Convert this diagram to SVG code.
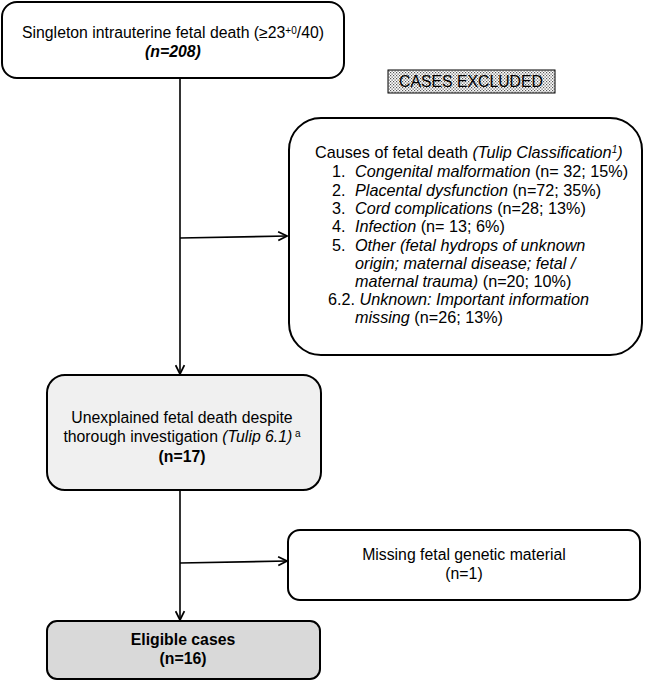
<svg xmlns="http://www.w3.org/2000/svg" width="651" height="685" viewBox="0 0 651 685">
<style>
.box{stroke:#000;stroke-width:2}
.t{font-family:"Liberation Sans",Arial,sans-serif;font-size:15.8px;fill:#000}
.l{font-size:16.2px}
.c{text-anchor:middle}
.i{font-style:italic}
.b{font-weight:bold}
.ln{stroke:#000;stroke-width:1.6;fill:none}
</style>
<defs>
<marker id="arr" viewBox="0 0 10 10" refX="9" refY="5" markerWidth="11" markerHeight="11" markerUnits="userSpaceOnUse" orient="auto">
<path d="M1,1 L9,5 L1,9" fill="none" stroke="#000" stroke-width="1.6"/>
</marker>
<pattern id="dots" width="3" height="3" patternUnits="userSpaceOnUse">
<rect width="3" height="3" fill="#fff"/>
<rect x="0" y="0" width="1.2" height="1.2" fill="#555"/>
<rect x="1.5" y="1.5" width="1.2" height="1.2" fill="#555"/>
</pattern>
</defs>
<g id="connectors">
<line class="ln" x1="180" y1="78" x2="180" y2="374" marker-end="url(#arr)"/>
<line class="ln" x1="180" y1="238" x2="287" y2="236" marker-end="url(#arr)"/>
<line class="ln" x1="180" y1="490" x2="180" y2="620" marker-end="url(#arr)"/>
<line class="ln" x1="180" y1="563" x2="287" y2="561" marker-end="url(#arr)"/>
</g>
<g id="n1">
<rect class="box" x="2" y="2" width="342" height="76" rx="15" fill="#fff"/>
<text class="t c" x="173" y="38">Singleton intrauterine fetal death (≥23<tspan font-size="10" dy="-4">+0</tspan><tspan dy="4">/40)</tspan></text>
<text class="t c i b" x="173" y="57">(n=208)</text>
</g>
<g id="excluded">
<rect x="388" y="70" width="167" height="23" fill="url(#dots)" stroke="#000" stroke-width="1"/>
<text class="t c" x="471" y="87">CASES EXCLUDED</text>
</g>
<g id="causes">
<rect class="box" x="289" y="118" width="353" height="237" rx="32" fill="#fff"/>
<text class="t l" x="315" y="158">Causes of fetal death <tspan class="i">(Tulip Classification<tspan font-size="10" dy="-5">1</tspan><tspan dy="5">)</tspan></tspan></text>
<text class="t l" x="332" y="177">1.</text><text class="t l" x="355" y="177"><tspan class="i">Congenital malformation</tspan> (n= 32; 15%)</text>
<text class="t l" x="332" y="196">2.</text><text class="t l" x="355" y="196"><tspan class="i">Placental dysfunction</tspan> (n=72; 35%)</text>
<text class="t l" x="332" y="214">3.</text><text class="t l" x="355" y="214"><tspan class="i">Cord complications</tspan> (n=28; 13%)</text>
<text class="t l" x="332" y="232">4.</text><text class="t l" x="355" y="232"><tspan class="i">Infection</tspan> (n= 13; 6%)</text>
<text class="t l" x="332" y="251">5.</text><text class="t l i" x="355" y="251">Other (fetal hydrops of unknown</text>
<text class="t l i" x="355" y="269">origin; maternal disease; fetal /</text>
<text class="t l" x="355" y="287"><tspan class="i">maternal trauma)</tspan> (n=20; 10%)</text>
<text class="t l" x="328" y="305">6.2. <tspan class="i">Unknown: Important information</tspan></text>
<text class="t l" x="355" y="323"><tspan class="i">missing</tspan> (n=26; 13%)</text>
</g>
<g id="unexplained">
<rect class="box" x="47" y="375" width="274" height="115" rx="18" fill="#f0f0f0"/>
<text class="t c" x="182" y="423">Unexplained fetal death despite</text>
<text class="t c" x="182" y="442">thorough investigation <tspan class="i">(Tulip 6.1)</tspan><tspan font-size="10" dy="-5"> a</tspan></text>
<text class="t c b" x="182" y="462">(n=17)</text>
</g>
<g id="missing">
<rect class="box" x="288" y="530" width="352" height="70" rx="12" fill="#fff"/>
<text class="t c" x="464" y="560">Missing fetal genetic material</text>
<text class="t c" x="464" y="579">(n=1)</text>
</g>
<g id="eligible">
<rect class="box" x="47" y="621" width="273" height="58" rx="10" fill="#d9d9d9"/>
<text class="t c b" x="183" y="645">Eligible cases</text>
<text class="t c b" x="183" y="664">(n=16)</text>
</g>
</svg>
